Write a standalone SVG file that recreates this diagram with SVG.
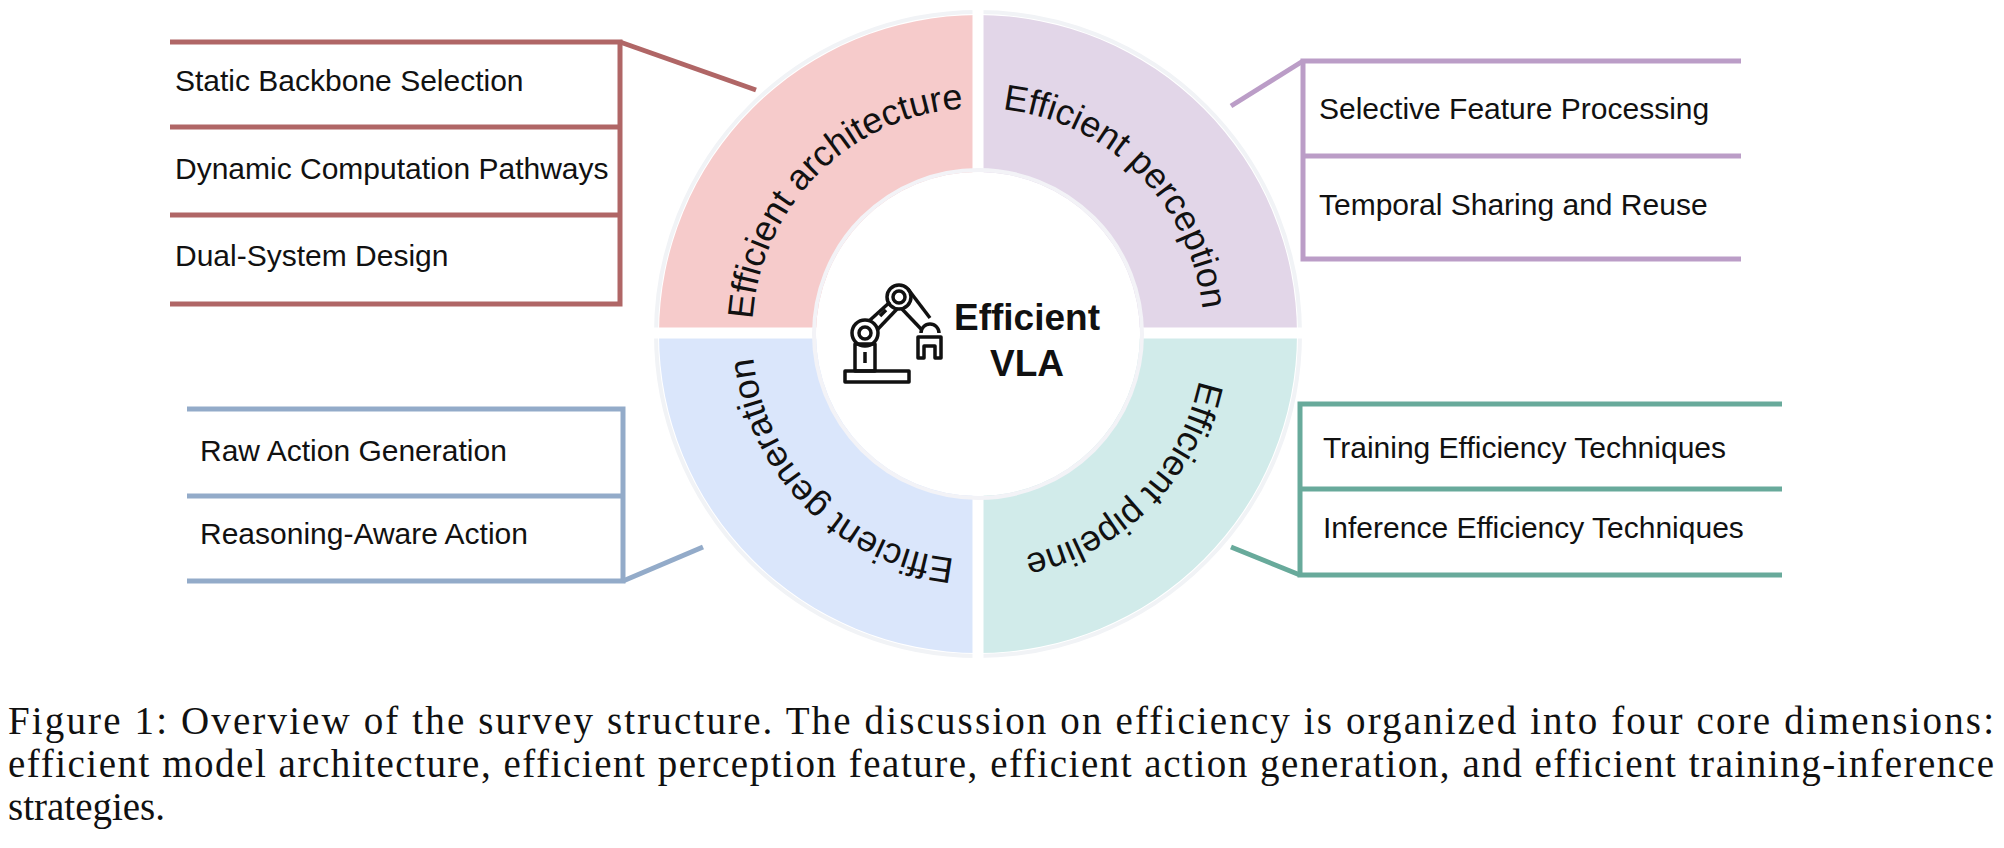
<svg xmlns="http://www.w3.org/2000/svg" width="2004" height="848" viewBox="0 0 2004 848">
<style>
.lbl{font-family:"Liberation Sans",Arial,sans-serif;font-size:30px;fill:#111}
.arc{font-family:"Liberation Sans",Arial,sans-serif;font-size:36px;fill:#111}
.cap{font-family:"Liberation Serif","Times New Roman",serif;font-size:39px;fill:#111}
.ln{fill:none;stroke-width:5}
.red{stroke:#b06666}.pur{stroke:#bb9dc7}.blu{stroke:#93abc9}.tea{stroke:#68aa9b}
.ic{fill:none;stroke:#111;stroke-width:3.5;stroke-linejoin:round}
</style>
<defs>
<path id="p1" d="M752,334 A226 226 0 0 1 978,108"/>
<path id="p2" d="M978,108 A226 226 0 0 1 1204,334"/>
<path id="p3" d="M1204,334 A226 226 0 0 1 978,560"/>
<path id="p4" d="M978,560 A226 226 0 0 1 752,334"/>
</defs>
<rect width="2004" height="848" fill="#fff"/>
<g id="ring">
<circle cx="978" cy="334" r="322" fill="none" stroke="#f1f3f6" stroke-width="4"/>
<path d="M659,334 A319 319 0 0 1 978,15 L978,172 A162 162 0 0 0 816,334 Z" fill="#f6cbcb"/>
<path d="M978,15 A319 319 0 0 1 1297,334 L1140,334 A162 162 0 0 0 978,172 Z" fill="#e2d6e8"/>
<path d="M1297,334 A319 319 0 0 1 978,653 L978,496 A162 162 0 0 0 1140,334 Z" fill="#d1ebea"/>
<path d="M978,653 A319 319 0 0 1 659,334 L816,334 A162 162 0 0 0 978,496 Z" fill="#dae6fb"/>
<line x1="978" y1="8" x2="978" y2="660" stroke="#fff" stroke-width="11"/>
<line x1="650" y1="333" x2="1306" y2="333" stroke="#fff" stroke-width="11"/>
<circle cx="978" cy="334" r="164" fill="none" stroke="#f3f3f7" stroke-width="4"/>
</g>
<g id="q-arch"><text class="arc"><textPath href="#p1" startOffset="50%" text-anchor="middle">Efficient architecture</textPath></text></g>
<g id="q-perc"><text class="arc"><textPath href="#p2" startOffset="50%" text-anchor="middle">Efficient perception</textPath></text></g>
<g id="q-pipe"><text class="arc"><textPath href="#p3" startOffset="50%" text-anchor="middle">Efficient pipeline</textPath></text></g>
<g id="q-gen"><text class="arc"><textPath href="#p4" startOffset="50%" text-anchor="middle">Efficient generation</textPath></text></g>
<g id="center">
<rect x="845" y="371" width="64" height="11" class="ic"/>
<rect x="855" y="344" width="20" height="27" class="ic"/>
<line x1="865" y1="352" x2="865" y2="363" class="ic"/>
<circle cx="865" cy="333" r="13" class="ic"/>
<circle cx="865" cy="333" r="6" class="ic"/>
<circle cx="899" cy="297" r="12" class="ic"/>
<circle cx="899" cy="297" r="6" class="ic"/>
<line x1="869" y1="321" x2="890" y2="302" class="ic"/>
<line x1="877" y1="330" x2="897" y2="309" class="ic"/>
<line x1="880" y1="316" x2="886" y2="310" class="ic"/>
<line x1="908" y1="289" x2="930" y2="318" class="ic"/>
<line x1="902" y1="309" x2="922" y2="330" class="ic"/>
<path d="M921,333 A9 9 0 0 1 939,333" class="ic"/>
<path d="M918,358 L918,337 L941,337 L941,358 L935,358 L935,346 L924,346 L924,358 Z" class="ic"/>
<text x="1027" y="330" text-anchor="middle" style="font-family:'Liberation Sans',Arial,sans-serif;font-weight:bold;font-size:37px;fill:#111">Efficient</text>
<text x="1027" y="376" text-anchor="middle" style="font-family:'Liberation Sans',Arial,sans-serif;font-weight:bold;font-size:37px;fill:#111">VLA</text>
</g>
<g id="connectors">
<line x1="620" y1="42" x2="756" y2="90" class="ln red"/>
<line x1="623" y1="581" x2="703" y2="547" class="ln blu"/>
<line x1="1303" y1="61" x2="1231" y2="106" class="ln pur"/>
<line x1="1300" y1="575" x2="1231" y2="547" class="ln tea"/>
</g>
<g id="box-arch">
<path d="M170,42 H620 V304 H170 M170,127 H620 M170,215 H620" class="ln red"/>
<text x="175" y="91" class="lbl">Static Backbone Selection</text>
<text x="175" y="179" class="lbl">Dynamic Computation Pathways</text>
<text x="175" y="266" class="lbl">Dual-System Design</text>
</g>
<g id="box-gen">
<path d="M187,409 H623 V581 H187 M187,496 H623" class="ln blu"/>
<text x="200" y="461" class="lbl">Raw Action Generation</text>
<text x="200" y="544" class="lbl">Reasoning-Aware Action</text>
</g>
<g id="box-perc">
<path d="M1741,61 H1303 V259 H1741 M1303,156 H1741" class="ln pur"/>
<text x="1319" y="119" class="lbl">Selective Feature Processing</text>
<text x="1319" y="215" class="lbl">Temporal Sharing and Reuse</text>
</g>
<g id="box-pipe">
<path d="M1782,404 H1300 V575 H1782 M1300,489 H1782" class="ln tea"/>
<text x="1323" y="458" class="lbl">Training Efficiency Techniques</text>
<text x="1323" y="538" class="lbl">Inference Efficiency Techniques</text>
</g>
<g id="caption">
<text x="8" y="734" class="cap" textLength="1986" lengthAdjust="spacing">Figure 1: Overview of the survey structure.  The discussion on efficiency is organized into four core dimensions:</text>
<text x="8" y="777" class="cap" textLength="1986" lengthAdjust="spacing">efficient model architecture, efficient perception feature, efficient action generation, and efficient training-inference</text>
<text x="8" y="820" class="cap">strategies.</text>
</g>
</svg>
